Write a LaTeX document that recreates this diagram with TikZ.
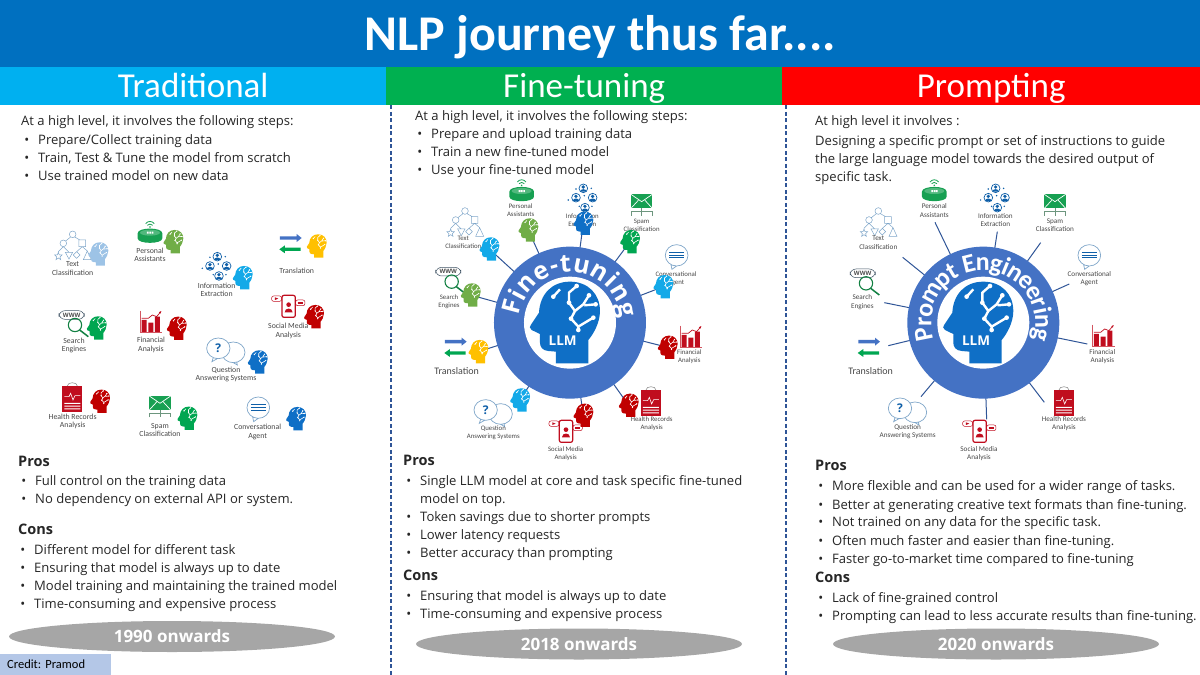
\documentclass[tikz,border=0pt]{standalone}
\usepackage{fontspec}
\setmainfont{Open Sans}
\newfontfamily\capfont{Carlito}
\usetikzlibrary{shapes.geometric,decorations.text,arrows.meta}

\definecolor{titleblue}{HTML}{0070C0}
\definecolor{bandcyan}{HTML}{00B0F0}
\definecolor{bandgreen}{HTML}{00B050}
\definecolor{bandred}{HTML}{FF0000}
\definecolor{ringblue}{HTML}{4472C4}
\definecolor{dashblue}{HTML}{2F5597}
\definecolor{bodygrey}{HTML}{262626}
\definecolor{pillgrey}{HTML}{A6A6A6}
\definecolor{creditblue}{HTML}{B4C7E7}
\definecolor{ipale}{HTML}{7FA6C9}
\definecolor{igreen}{HTML}{17A052}
\definecolor{iblue}{HTML}{0F5FA8}
\definecolor{ired}{HTML}{C00D1E}
\definecolor{hpale}{HTML}{9DC3E6}
\definecolor{holive}{HTML}{70AD47}
\definecolor{hsky}{HTML}{13A9E8}
\definecolor{hyellow}{HTML}{FFC000}
\definecolor{hgreen}{HTML}{00A651}
\definecolor{hred}{HTML}{C00000}
\definecolor{hblue}{HTML}{0F6FC6}

\newcommand{\headoutline}{(-27,122) -- (-27,87) -- (-50,85) .. controls (-68,84) and (-75,72) .. (-75,60) -- (-75,34) -- (-100,22) .. controls (-108,18) and (-106,10) .. (-102,6) -- (-78,-30) .. controls (-75,-85) and (-40,-123) .. (15,-123) .. controls (70,-123) and (105,-85) .. (105,-35) .. controls (105,0) and (85,35) .. (70,52) -- (70,122) -- cycle}
\newcommand{\headwires}{(-35,-78) -- (-15,-100) (12,-60) -- (12,-90) -- (35,-110) (12,-60) -- (30,-35) -- (18,-12) -- (40,12) -- (85,-15) (30,-35) -- (55,-55) -- (72,-82) (58,-52) -- (92,-55) (40,12) -- (40,22)}
\newcommand{\headdots}{(-35,-78) circle (7) (35,-110) circle (7) (12,-60) circle (7) (72,-82) circle (7) (92,-55) circle (7) (85,-15) circle (7) (18,-12) circle (7) (40,22) circle (7)}
\newcommand{\transfont}{\capfont\fontsize{10}{11}\selectfont}
\newcommand{\ftringfont}{\color{white}\bfseries\fontsize{25}{25}\selectfont}
\newcommand{\peringfont}{\color{white}\capfont\bfseries\fontsize{26}{26}\selectfont}

\tikzset{
  band/.style={anchor=north west,inner sep=0,text=white,text height=23,text depth=0,font=\capfont\fontsize{35}{35}\selectfont},
  intro/.style={anchor=west,inner sep=0,text height=12,text depth=1,text=bodygrey,font=\fontsize{13.05}{14}\selectfont},
  bul/.style={intro,execute at begin node={\llap{\textbullet\hspace{9pt}}}},
  sect/.style={intro,font=\bfseries\fontsize{14.5}{15}\selectfont},
  pill/.style={ellipse,inner sep=0,fill=pillgrey,minimum width=326,minimum height=31,text=white,font=\bfseries\fontsize{17}{18}\selectfont},
  applabel/.style={align=center,inner sep=0,text=black!72,font=\capfont\fontsize{7.2}{8.3}\selectfont},
  spoke/.style={draw=dashblue,line width=1pt},
  sepline/.style={draw=dashblue,line width=1.3pt,dash pattern=on 4pt off 2.5pt},
  smallhead/.pic={
    \path[pic actions] \headoutline;
    \draw[white,line width=.6pt] \headwires;
    \fill[white] \headdots;
  },
  bighead/.pic={
    \path[pic actions] \headoutline;
    \draw[white,line width=2.4pt] \headwires;
    \fill[white] \headdots;
    \node[text=white,font=\bfseries\fontsize{13.5}{14}\selectfont,inner sep=0] (llmname) at (-7,55) {LLM};
  },
  textcls/.pic={
    \draw[ipale,line width=.5pt] (0,-32) circle (10) (-28,-5) circle (10) (19,-15) rectangle (39,5)
      (-6,-24) -- (-21,-12) (6,-24) -- (22,-15) (-28,5) -- (-43,20) (-28,5) -- (-11,22) (29,5) -- (12,20) (29,5) -- (44,18)
      (-43,22) -- (-40,30) -- (-32,30) -- (-38,36) -- (-36,44) -- (-43,39) -- (-50,44) -- (-48,36) -- (-54,30) -- (-46,30) -- cycle
      (-22,22) -- (0,22) -- (-11,42) -- cycle (12,20) -- (22,30) -- (12,40) -- (2,30) -- cycle (44,18) -- (56,44) -- (32,44) -- cycle;
  },
  assistant/.pic={
    \fill[igreen] (-37,5) -- (-37,20) .. controls (-37,38) and (37,38) .. (37,20) -- (37,5) .. controls (37,-14) and (-37,-14) .. (-37,5) -- cycle;
    \fill[igreen!75!white] (0,3) ellipse (30 and 9);
    \fill[white] (-9,0) rectangle (-4,6) (-2,0) rectangle (3,6) (5,0) rectangle (10,6);
    \draw[igreen,line width=.8pt] (-13,-24) .. controls (-6,-33) and (6,-33) .. (13,-24) (-8,-19) .. controls (-3,-24) and (3,-24) .. (8,-19);
    \fill[igreen] (0,-14) circle (2.5);
  },
  infoext/.pic={
    \foreach \px/\py in {0/-30,-22/-2,28/-2,5/28}{
      \draw[iblue,line width=.7pt] (\px,\py) circle (13);
      \fill[iblue] (\px,\py-4) circle (5.5);
      \fill[iblue] (\px-10,\py+10) .. controls (\px-9,\py) and (\px+9,\py) .. (\px+10,\py+10) -- cycle;
    }
    \fill[iblue] (-22,-28) circle (2.5) (24,-30) circle (2.5) (3,-8) circle (2.5) (-45,5) circle (2.5) (-12,24) circle (2.5) (26,24) circle (2.5);
  },
  spamicon/.pic={
    \fill[igreen] (-32,-32) rectangle (32,10);
    \draw[white,line width=.7pt] (-32,-32) -- (0,-10) -- (32,-32) (-32,10) -- (-10,-14) (32,10) -- (10,-14);
    \draw[igreen!50!black!60,line width=.4pt] (0,10) -- (0,32) (-32,32) -- (-32,20) -- (32,20) -- (32,32);
  },
  convicon/.pic={
    \draw[ipale,line width=.7pt] (0,-2) ellipse (34 and 32) (-17,26) -- (-14,40) -- (0,30);
    \draw[iblue,line width=1pt] (-22,-10) -- (22,-10) (-22,-2) -- (22,-2) (-22,6) -- (22,6);
  },
  finicon/.pic={
    \fill[ired] (-25,-5) rectangle (-10,33) (-5,3) rectangle (10,33) (15,-15) rectangle (30,33);
    \draw[ired!70,line width=.4pt] (-30,-33) -- (-30,33) -- (37,33);
    \draw[ired,line width=.7pt,-{Latex[length=3pt]}] (-25,-10) -- (-5,-10) -- (7,-20) -- (20,-15) -- (35,-33);
  },
  healthicon/.pic={
    \draw[black!50,line width=.5pt] (-15,-37) .. controls (-15,-50) and (15,-50) .. (15,-37);
    \fill[ired] (-30,-37) rectangle (30,40);
    \draw[white,line width=.6pt] (-24,-5) -- (-10,-5) -- (-5,-15) -- (2,5) -- (8,-8) -- (24,-8);
    \fill[white] (-24,14) rectangle (24,17) (-24,22) rectangle (24,25) (-24,30) rectangle (24,33);
  },
  socialicon/.pic={
    \draw[ired,line width=1.2pt,rounded corners=2pt] (-19,-34) rectangle (21,32);
    \fill[ired] (1,-6) circle (7) (-11,17) .. controls (-11,2) and (13,2) .. (13,17) -- cycle;
    \draw[ired,line width=.5pt,rounded corners=2pt] (-50,-32) rectangle (-20,-16) (22,-20) rectangle (50,-3);
    \fill[ired] (-40,-28) -- (-40,-20) -- (-30,-24) -- cycle;
    \draw[ired,line width=.5pt] (28,-14) -- (44,-14) (28,-9) -- (44,-9);
  },
  quesicon/.pic={
    \draw[ipale,line width=.7pt,fill=white] (22,2) ellipse (35 and 31) (32,30) -- (34,40) -- (22,33);
    \draw[ipale,line width=.7pt,fill=white] (-23,-10) ellipse (35 and 31) (-38,18) -- (-42,30) -- (-26,21);
    \node[text=iblue,font=\bfseries\fontsize{12}{12}\selectfont,inner sep=0] (qmark) at (-23,-10) {?};
  },
  searchicon/.pic={
    \draw[black!50!ipale,line width=.5pt,rounded corners=6pt] (-38,-38) rectangle (38,-12);
    \node[text=black!70,font=\bfseries\fontsize{6}{6}\selectfont,inner sep=0] (wwwtag) at (0,-25) {WWW};
    \draw[igreen!80!black,line width=1.1pt] (10,5) circle (20);
    \draw[igreen!80!black,line width=1.5pt] (24,20) -- (50,40);
  },
  transicon/.pic={
    \fill[ringblue] (-30,-22) -- (20,-22) -- (20,-29) -- (35,-17) -- (20,-5) -- (20,-12) -- (-30,-12) -- cycle;
    \fill[hgreen] (32,12) -- (-15,12) -- (-15,5) -- (-32,17) -- (-15,29) -- (-15,22) -- (32,22) -- cycle;
  }
}

\begin{document}
\frenchspacing
\begin{tikzpicture}[x=1pt,y=-1pt]
  \useasboundingbox (0,0) rectangle (1200,675);

  % title and column bands
  \node[band,fill=titleblue,minimum width=1200,minimum height=67,text height=38,text depth=5,font=\capfont\bfseries\fontsize{50}{50}\selectfont] (title) at (0,0) {NLP journey thus far....};
  \node[band,fill=bandcyan,minimum width=386,minimum height=38] (trband) at (0,67) {Traditional};
  \node[band,fill=bandgreen,minimum width=396,minimum height=38] (ftband) at (386,67) {Fine-tuning};
  \node[band,fill=bandred,minimum width=418,minimum height=38] (peband) at (782,67) {Prompting};

  % column borders
  \coordinate (sepa) at (391,675);
  \coordinate (sepb) at (786,675);
  \draw[sepline] (sepa |- trband.south) -- (sepa);
  \draw[sepline] (sepb |- peband.south) -- (sepb);

  % traditional
  \node[intro] (trintro) at (21,120) {At a high level, it involves the following steps:};
  \foreach \y/\t in {139/{Prepare/Collect training data},157/{Train, Test \& Tune the model from scratch},175/{Use trained model on new data}}
    \node[bul] (trstep\y) at (38,\y) {\t};
  \node[sect] (trpros) at (18,461) {Pros};
  \foreach \y/\t in {480/{Full control on the training data},498/{No dependency on external API or system.}}
    \node[bul] (trpro\y) at (35,\y) {\t};
  \node[sect] (trcons) at (18,529) {Cons};
  \foreach \y/\t in {549/{Different model for different task},567/{Ensuring that model is always up to date},585/{Model training and maintaining the trained model},603/{Time-consuming and expensive process}}
    \node[bul] (trcon\y) at (34,\y) {\t};
  \node[pill] (trera) at (172,636.5) {1990 onwards};
  \node[anchor=north west,inner sep=0,fill=creditblue,minimum width=111,minimum height=21,text=black,font=\capfont\fontsize{12.5}{13}\selectfont,align=left,text width=97] (credit) at (0,654) {Credit: Pramod};

  % traditional icons
  \begin{scope}[shift={(0,190)},x=.3333pt,y=-.3333pt]
    \foreach \ic/\ix/\iy/\hx/\hy/\hc/\lx/\ly/\lb in {
      textcls/218/165/295/192/hpale/218/236/{Text\\Classification},
      assistant/450/125/520/155/holive/450/194/{Personal\\Assistants},
      infoext/652/230/728/263/hsky/650/299/{Information\\Extraction},
      transicon/870/161/950/168/hyellow/890/241/{Translation},
      socialicon/865/350/942/380/hred/865/423/{Social Media\\Analysis},
      searchicon/215/400/290/414/hgreen/222/467/{Search\\Engines},
      finicon/450/395/530/415/hred/453/465/{Financial\\Analysis},
      quesicon/678/485/773/516/hblue/678/553/{Question\\Answering Systems},
      healthicon/217/625/300/634/hred/218/695/{Health Records\\Analysis},
      spamicon/480/650/562/685/hgreen/480/720/{Spam\\Classification},
      convicon/775/655/888/686/hblue/773/726/{Conversational\\Agent}}{
      \pic at (\ix,\iy) {\ic};
      \node[applabel,font=\capfont\fontsize{7.8}{8.3}\selectfont] (trl\ic) at (\lx,\ly) {\lb};
      \pic[fill=\hc,scale=.286] at (\hx,\hy) {smallhead};
    }
  \end{scope}

  % fine-tuning
  \node[intro] (ftintro) at (415,115) {At a high level, it involves the following steps:};
  \foreach \y/\t in {133/{Prepare and upload training data},151/{Train a new fine-tuned model},169/{Use your fine-tuned model}}
    \node[bul] (ftstep\y) at (431,\y) {\t};
  \node[sect] (ftpros) at (403,460) {Pros};
  \foreach \y/\t in {480/{Single LLM model at core and task specific fine-tuned},516/{Token savings due to shorter prompts},534/{Lower latency requests},552/{Better accuracy than prompting}}
    \node[bul] (ftpro\y) at (420,\y) {\t};
  \node[intro] (ftprox) at (420,498) {model on top.};
  \node[sect] (ftcons) at (403,575) {Cons};
  \foreach \y/\t in {595/{Ensuring that model is always up to date},613/{Time-consuming and expensive process}}
    \node[bul] (ftcon\y) at (420,\y) {\t};
  \node[pill] (ftera) at (579,644) {2018 onwards};

  % fine-tuning wheel
  \begin{scope}[shift={(400,170)},x=.3333pt,y=-.3333pt]
    \coordinate (ftmid) at (510,458);
    \foreach \ic/\ix/\iy/\hx/\hy/\hc/\lx/\ly/\lb in {
      textcls/195/155/268/237/hsky/190/218/{Text\\Classification},
      assistant/365/60/385/180/holive/362/120/{Personal\\Assistants},
      infoext/550/85/550/160/hblue/547/150/{Information\\Extraction},
      spamicon/725/105/690/215/hgreen/725/165/{Spam\\Classification},
      convicon/830/258/790/350/hsky/828/325/{Conversational\\Agent},
      finicon/870/500/803/532/hred/868/560/{Financial\\Analysis},
      healthicon/753/697/686/706/hred/755/762/{Health Records\\Analysis},
      socialicon/497/785/550/736/hred/497/852/{Social Media\\Analysis},
      quesicon/280/730/360/690/hsky/280/788/{Question\\Answering Systems},
      transicon/165/532/235/545/hyellow/170/602/{\transfont Translation},
      searchicon/145/330/212/375/holive/147/395/{Search\\Engines}}{
      \coordinate (ft\ic) at (\hx,\hy);
      \draw[spoke] (ftmid) -- (ft\ic);
      \pic at (\ix,\iy) {\ic};
      \node[applabel,font=\capfont\fontsize{6.8}{8}\selectfont] (ftl\ic) at (\lx,\ly) {\lb};
      \pic[fill=\hc,scale=.286] at (\hx,\hy) {smallhead};
    }
    \node[circle,fill=ringblue,inner sep=0,minimum size=152] (ftring) at (ftmid) {};
    \node[circle,fill=white,inner sep=0,minimum size=92] (fthole) at (ftmid) {};
    \pic[fill=hblue] at (495,458) {bighead};
    \path[decorate,decoration={text along path,text align={fit to path},raise=-4pt,text={|\ftringfont|Fine-tuning}}]
      (ftmid) ++(172:55pt) arc[start angle=172,end angle=6,radius=55pt];
  \end{scope}

  % prompting
  \node[intro] (peintro) at (815,120) {At high level it involves :};
  \foreach \y/\t in {140/{Designing a specific prompt or set of instructions to guide},158/{the large language model towards the desired output of},176/{specific task.}}
    \node[intro] (pedef\y) at (815,\y) {\t};
  \node[sect] (pepros) at (815,465) {Pros};
  \foreach \y/\t in {485/{More flexible and can be used for a wider range of tasks.},504/{Better at generating creative text formats than fine-tuning.},521/{Not trained on any data for the specific task.},540/{Often much faster and easier than fine-tuning.},558/{Faster go-to-market time compared to fine-tuning}}
    \node[bul] (pepro\y) at (832,\y) {\t};
  \node[sect] (pecons) at (815,577) {Cons};
  \foreach \y/\t in {597/{Lack of fine-grained control},615/{Prompting can lead to less accurate results than fine-tuning.}}
    \node[bul] (pecon\y) at (832,\y) {\t};
  \node[pill] (peera) at (996,644) {2020 onwards};

  % prompting wheel
  \begin{scope}[shift={(810,170)},x=.3333pt,y=-.3333pt]
    \coordinate (pemid) at (520,458);
    \foreach \ic/\ix/\iy/\ex/\ey/\lx/\ly/\lb in {
      textcls/205/155/278/262/205/218/{Text\\Classification},
      assistant/373/60/375/157/373/122/{Personal\\Assistants},
      infoext/557/85/562/185/556/150/{Information\\Extraction},
      spamicon/735/105/692/218/735/165/{Spam\\Classification},
      convicon/838/258/778/342/838/326/{Conversational\\Agent},
      finicon/877/497/832/522/877/560/{Financial\\Analysis},
      healthicon/762/697/703/697/762/760/{Health Records\\Analysis},
      socialicon/508/785/530/748/507/850/{Social Media\\Analysis},
      quesicon/293/725/333/680/293/786/{Question\\Answering Systems},
      transicon/175/532/235/527/182/602/{\transfont Translation},
      searchicon/158/335/223/398/157/396/{Search\\Engines}}{
      \coordinate (pe\ic) at (\ex,\ey);
      \draw[spoke] (pemid) -- (pe\ic);
      \pic at (\ix,\iy) {\ic};
      \node[applabel] (pel\ic) at (\lx,\ly) {\lb};
    }
    \node[circle,fill=ringblue,inner sep=0,minimum size=152] (pering) at (pemid) {};
    \node[circle,fill=white,inner sep=0,minimum size=92] (pehole) at (pemid) {};
    \pic[fill=hblue] at (505,458) {bighead};
    \path[decorate,decoration={text along path,text align={fit to path},raise=-6pt,text={|\peringfont|Prompt Engineering}}]
      (pemid) ++(198:58pt) arc[start angle=198,end angle=-18,radius=58pt];
  \end{scope}
\end{tikzpicture}
\end{document}
